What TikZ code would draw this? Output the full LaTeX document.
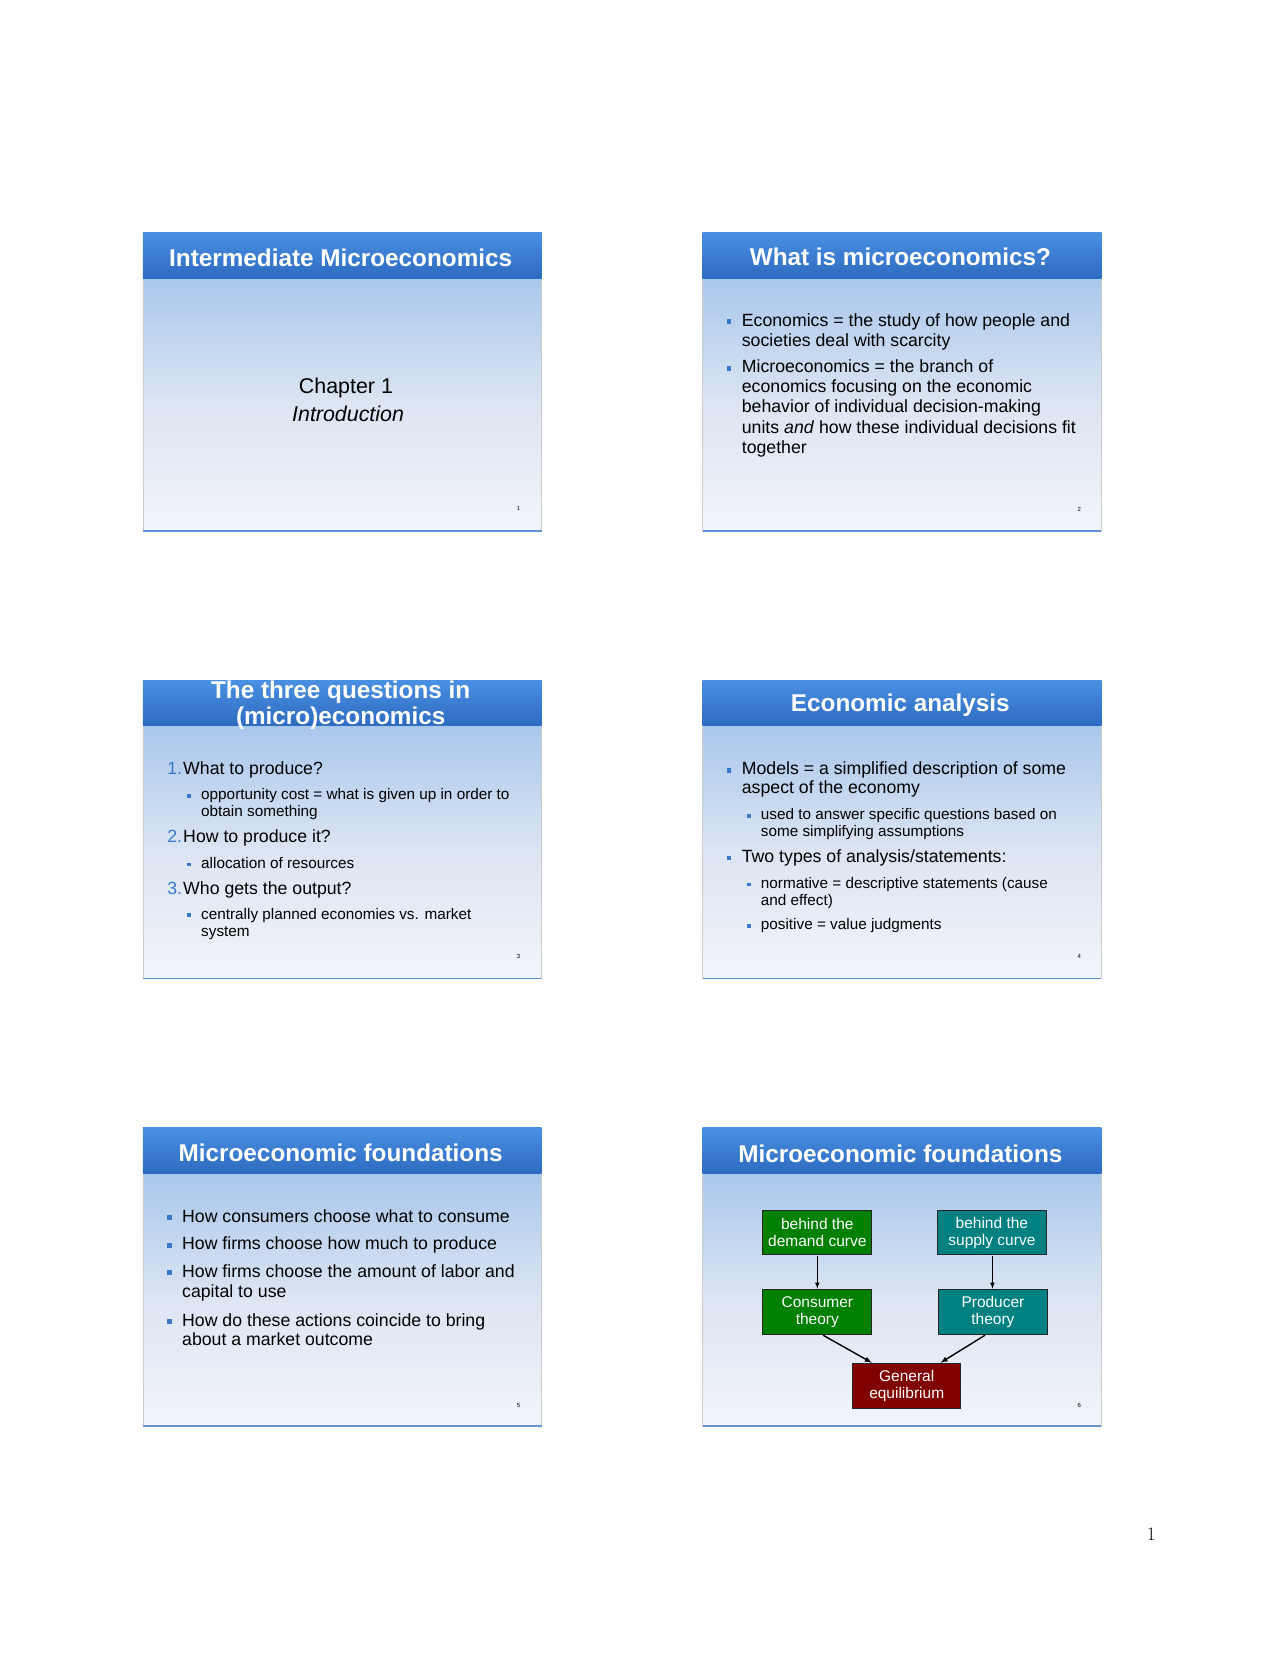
\documentclass[tikz,border=0pt]{standalone}
\usepackage{fontspec}
\setmainfont{Liberation Sans}
\begin{document}
\begin{tikzpicture}[x=1.058pt,y=-1.058pt,
  hdr/.style={anchor=center,inner sep=0,text=white,font=\fontsize{24.3}{26}\selectfont\bfseries},
  bodyf/.style={anchor=west,inner sep=0,yshift=-2pt,text height=0.72em,text depth=0.2em,font=\fontsize{17.7}{19}\selectfont},
  subf/.style={anchor=west,inner sep=0,yshift=-1.5pt,text height=0.72em,text depth=0.2em,font=\fontsize{15.3}{16}\selectfont},
  pnum/.style={inner sep=0,font=\fontsize{6}{7}\selectfont},
  flowtxt/.style={inner sep=0,text=white,align=center,font=\fontsize{15.5}{17}\selectfont},
  flow/.style={draw=black!85,line width=1.2pt}]
\definecolor{hdrtop}{HTML}{4A90E2}
\definecolor{hdrbot}{HTML}{2D6BC0}
\definecolor{bodytop}{HTML}{A9C7EC}
\definecolor{bodymid}{HTML}{DCE5F2}
\definecolor{bodybot}{HTML}{F2F5FA}
\definecolor{bul}{HTML}{3A78CC}
\definecolor{gr}{HTML}{008000}
\definecolor{tl}{HTML}{008080}
\definecolor{rd}{HTML}{800000}
\useasboundingbox[fill=white] (0,0) rectangle (1209.8,1565.2);
\newcommand{\slidebg}[2]{%
  \shade[top color=bodytop,bottom color=bodybot,middle color=bodymid] (#1,#2+43) rectangle (#1+377,#2+282);
  \draw[draw=black!20,line width=0.6pt] (#1,#2) rectangle (#1+377,#2+282);
  \shade[top color=hdrtop,bottom color=hdrbot] (#1,#2) rectangle (#1+377,#2+43);
  \draw[draw=bul!80,line width=1.6pt] (#1,#2+282) -- (#1+377,#2+282);}
\newcommand{\bsq}[3]{\fill[bul] (#1-#3,#2-#3) rectangle (#1+#3,#2+#3);}
\slidebg{135}{220}
\slidebg{664}{220}
\slidebg{135}{643}
\slidebg{664}{643}
\slidebg{135}{1066}
\slidebg{664}{1066}
% slide 1
\node[hdr] (t1) at (322,244) {Intermediate Microeconomics};
\node[inner sep=0,font=\fontsize{21.4}{23}\selectfont] (c1) at (327,367) {Chapter 1};
\node[inner sep=0,font=\fontsize{21.4}{23}\selectfont\itshape] (c2) at (329,391) {Introduction};
\node[pnum] (p1) at (490,481) {1};
% slide 2
\node[hdr] (t2) at (851,243) {What is microeconomics?};
\bsq{689}{304}{2.2}\bsq{689}{348}{2.2}
\node[bodyf] (a1) at (701,304) {Economics = the study of how people and};
\node[bodyf] (a2) at (701,323) {societies deal with scarcity};
\node[bodyf] (a3) at (701,348) {Microeconomics = the branch of};
\node[bodyf] (a4) at (701,367) {economics focusing on the economic};
\node[bodyf] (a5) at (701,386) {behavior of individual decision-making};
\node[bodyf] (a6) at (701,405) {units \textit{and} how these individual decisions fit};
\node[bodyf] (a7) at (701,424) {together};
\node[pnum] (p2) at (1020,481) {2};
% slide 3
\node[hdr] (t3a) at (322,654) {The three questions in};
\node[hdr] (t3b) at (322,679) {(micro)economics};
\node[bodyf,text=bul] (n1) at (158,728) {1.};
\node[bodyf] (q1) at (173,728) {What to produce?};
\bsq{179}{752}{1.8}
\node[subf] (s1) at (190,752) {opportunity cost = what is given up in order to};
\node[subf] (s2) at (190,768) {obtain something};
\node[bodyf,text=bul] (n2) at (158,792) {2.};
\node[bodyf] (q2) at (173,792) {How to produce it?};
\bsq{179}{817}{1.8}
\node[subf] (s3) at (190,817) {allocation of resources};
\node[bodyf,text=bul] (n3) at (158,841) {3.};
\node[bodyf] (q3) at (173,841) {Who gets the output?};
\bsq{179}{865}{1.8}
\node[subf] (s4) at (190,865) {centrally planned economies vs. market};
\node[subf] (s5) at (190,881) {system};
\node[pnum] (p3) at (490,904) {3};
% slide 4
\node[hdr] (t4) at (851,667) {Economic analysis};
\bsq{689}{728}{2.2}\bsq{689}{811}{2.2}
\node[bodyf] (b1) at (701,728) {Models = a simplified description of some};
\node[bodyf] (b2) at (701,746) {aspect of the economy};
\bsq{708}{771}{1.8}\bsq{708}{836}{1.8}\bsq{708}{875}{1.8}
\node[subf] (b3) at (719,771) {used to answer specific questions based on};
\node[subf] (b4) at (719,787) {some simplifying assumptions};
\node[bodyf] (b5) at (701,811) {Two types of analysis/statements:};
\node[subf] (b6) at (719,836) {normative = descriptive statements (cause};
\node[subf] (b7) at (719,852) {and effect)};
\node[subf] (b8) at (719,875) {positive = value judgments};
\node[pnum] (p4) at (1020,904) {4};
% slide 5
\node[hdr] (t5) at (322,1090) {Microeconomic foundations};
\bsq{160}{1151}{2.2}\bsq{160}{1177}{2.2}\bsq{160}{1203}{2.2}\bsq{160}{1249}{2.2}
\node[bodyf] (m1) at (172,1151) {How consumers choose what to consume};
\node[bodyf] (m2) at (172,1177) {How firms choose how much to produce};
\node[bodyf] (m3) at (172,1203) {How firms choose the amount of labor and};
\node[bodyf] (m4) at (172,1222) {capital to use};
\node[bodyf] (m5) at (172,1249) {How do these actions coincide to bring};
\node[bodyf] (m6) at (172,1267) {about a market outcome};
\node[pnum] (p5) at (490,1328) {5};
% slide 6
\node[hdr] (t6) at (851,1091) {Microeconomic foundations};
\draw[flow,fill=gr] (721,1144) rectangle (824,1186);
\node[flowtxt] (dem) at (772.5,1165) {behind the\\demand curve};
\draw[flow,fill=tl] (886,1144) rectangle (989,1186);
\node[flowtxt] (sup) at (937.5,1165) {behind the\\supply curve};
\draw[flow,fill=gr] (721,1219) rectangle (824,1261);
\node[flowtxt] (con) at (772.5,1240) {Consumer\\theory};
\draw[flow,fill=tl] (887,1219) rectangle (990,1261);
\node[flowtxt] (pro) at (938.5,1240) {Producer\\theory};
\draw[flow,fill=rd] (806,1289) rectangle (908,1331);
\node[flowtxt] (gen) at (857,1310) {General\\equilibrium};
\coordinate (d0) at (772.5,1187);\coordinate (d1) at (772.5,1218);
\coordinate (u0) at (938,1187);\coordinate (u1) at (938,1218);
\coordinate (c0) at (778,1262);\coordinate (c1) at (824,1288);
\coordinate (r0) at (931,1262);\coordinate (r1) at (889,1288);
\draw[-latex,line width=1.1pt] (d0) -- (d1);
\draw[-latex,line width=1.1pt] (u0) -- (u1);
\draw[-latex,line width=1.4pt] (c0) -- (c1);
\draw[-latex,line width=1.4pt] (r0) -- (r1);
\node[pnum] (p6) at (1020,1328) {6};
\node[inner sep=0,font=\fontfamily{lmr}\fontsize{19}{20}\selectfont] (pg) at (1088,1450) {1};
\end{tikzpicture}
\end{document}
